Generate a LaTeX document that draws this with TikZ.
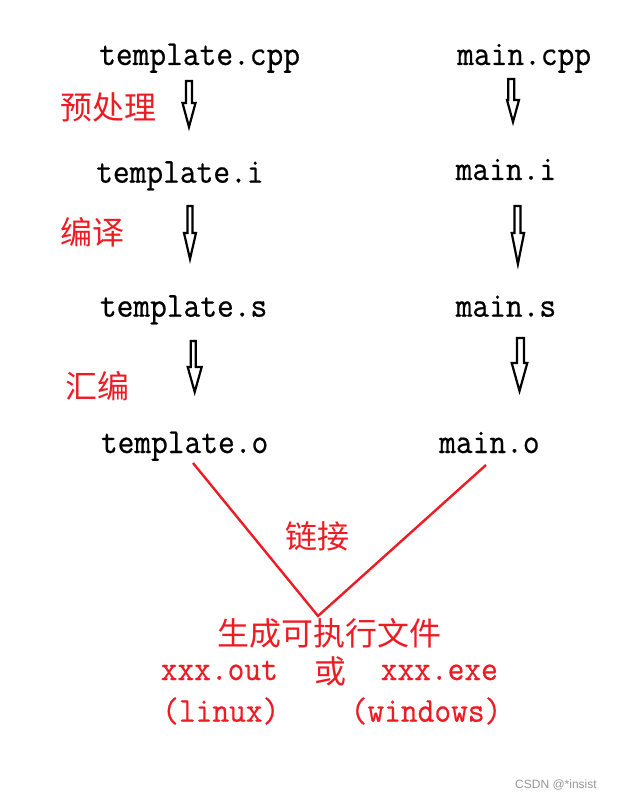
\documentclass[tikz,border=0pt]{standalone}
\usepackage{fontspec}
\newfontfamily\lat{Latin Modern Mono}[FakeBold=0.6]
\newfontfamily\cjk{Noto Sans CJK SC}
\newfontfamily\wm{Liberation Sans}
\definecolor{myred}{RGB}{237,28,36}
\definecolor{wmgray}{RGB}{150,150,150}
\newcommand{\blkarrow}[7]{% cx_shaft, cx_head, top, headstart, tip, shaft half, head half
  \draw[blockarr] (#1-#6,#3) -- (#1+#6,#3) -- (#1+#6,#4) -- (#2+#7,#4) -- (#2,#5) -- (#2-#7,#4) -- (#1-#6,#4) -- cycle;}
\newcommand{\ft}[1]{\scalebox{1}[1.08]{\bfseries #1}}
\begin{document}
\begin{tikzpicture}[x=1pt,y=-1pt,
  file/.style={inner sep=0pt,anchor=base west,font=\lat\fontsize{32.5}{35}\selectfont,text=black},
  redfile/.style={file,text=myred},
  step label/.style={inner sep=0pt,anchor=west,font=\cjk\fontsize{32}{36}\selectfont,text=myred},
  blockarr/.style={draw=black,line width=2.2pt,line join=miter,fill=white},
  linkline/.style={draw=myred,line width=2.4pt,line join=miter}]
\useasboundingbox (0,0) rectangle (618,799);
% file names
\node[file] (tcpp) at (99,65) {\ft{template.cpp}};
\node[file] (mcpp) at (457,65) {\ft{main.cpp}};
\node[file] (ti) at (96,182.7) {\ft{template.i}};
\node[file] (mi) at (455.5,180) {\ft{main.i}};
\node[file] (ts) at (99.7,316.7) {\ft{template.s}};
\node[file] (ms) at (455.5,316.7) {\ft{main.s}};
\node[file] (to) at (100.7,453) {\ft{template.o}};
\node[file] (mo) at (439,453) {\ft{main.o}};
% step labels
\node[step label] (pre) at (60.5,107.5) {预处理};
\node[step label] (comp) at (60.5,232) {编译};
\node[step label] (asm) at (65.5,386.5) {汇编};
\node[step label] (link) at (285,536) {链接};
% arrows
\blkarrow{189}{189}{81}{103}{127}{3}{6.5}
\blkarrow{190}{190}{206}{233}{259}{2.5}{6}
\blkarrow{193.3}{194.7}{341}{367}{392}{2.5}{7}
\blkarrow{511.2}{513}{79}{100}{122}{3}{6}
\blkarrow{517.5}{517.9}{206}{233}{264}{3}{6.2}
\blkarrow{520.5}{519.5}{338}{363}{391}{3.5}{7.8}
% link lines
\coordinate (lstart) at (193,463);
\coordinate (rstart) at (486,465);
\coordinate (apex) at (318,616);
\draw[linkline] (lstart) -- (apex) -- (rstart);
% result
\node[step label] (gen) at (217,633) {生成可执行文件};
\node[redfile] (out) at (160.5,680) {\ft{xxx.out}};
\node[step label] (or) at (314,671) {或};
\node[redfile] (exe) at (380.5,680) {\ft{xxx.exe}};
\node[redfile] (linux) at (162,721.7) {\ft{(linux)}};
\node[redfile] (win) at (350.5,721.7) {\ft{(windows)}};
% watermark
\node[inner sep=0pt,anchor=west,font=\wm\fontsize{12}{14}\selectfont,text=wmgray] (wmk) at (515,785) {CSDN @*insist};
\end{tikzpicture}
\end{document}
